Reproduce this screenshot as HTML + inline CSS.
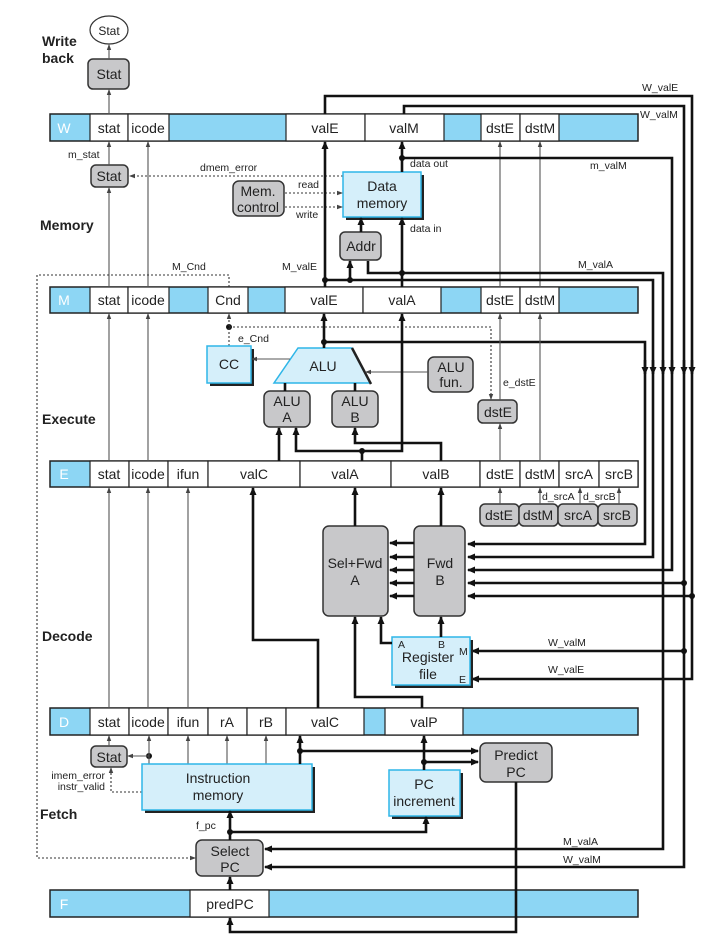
<!DOCTYPE html>
<html><head><meta charset="utf-8"><style>
html,body{margin:0;padding:0;background:#fff}
svg{display:block}
text{font-family:"Liberation Sans",sans-serif;fill:#222}
.c{font-size:14px;text-anchor:middle}
.s{font-size:10.5px}
.b{font-size:14px;font-weight:bold}
.th{stroke:#111;stroke-width:2.6;fill:none}
.tn{stroke:#555;stroke-width:1.1;fill:none}
.dt{stroke:#333;stroke-width:1.1;fill:none;stroke-dasharray:2 2}
.blue{fill:#8dd6f4;stroke:#222;stroke-width:1.5}
.cell{fill:#fff;stroke:#222;stroke-width:1.2}
.grey{fill:#c8c8ca;stroke:#333;stroke-width:1.5}
.lb{fill:#d5effa;stroke:#2fb6e8;stroke-width:1.5}
</style></head><body>
<svg width="720" height="944" viewBox="0 0 720 944" xmlns="http://www.w3.org/2000/svg">
<defs>
<marker id="a" markerWidth="8" markerHeight="8" refX="7" refY="4" orient="auto" markerUnits="userSpaceOnUse"><path d="M0,0.5 L8,4 L0,7.5z" fill="#111"/></marker>
<marker id="t" markerWidth="6" markerHeight="6" refX="5" refY="3" orient="auto" markerUnits="userSpaceOnUse"><path d="M0,0.8 L6,3 L0,5.2z" fill="#444"/></marker>
</defs>

<!-- Stage labels -->
<text class="b" x="42" y="46">Write</text>
<text class="b" x="42" y="63">back</text>
<text class="b" x="40" y="230">Memory</text>
<text class="b" x="42" y="424">Execute</text>
<text class="b" x="42" y="641">Decode</text>
<text class="b" x="40" y="819">Fetch</text>

<!-- W row -->
<rect class="blue" x="50" y="114" width="588" height="27"/>
<rect class="cell" x="90" y="114" width="38" height="27"/><text class="c" x="109" y="133">stat</text>
<rect class="cell" x="128" y="114" width="41" height="27"/><text class="c" x="148" y="133">icode</text>
<rect class="cell" x="286" y="114" width="79" height="27"/><text class="c" x="325" y="133">valE</text>
<rect class="cell" x="365" y="114" width="79" height="27"/><text class="c" x="404" y="133">valM</text>
<rect class="cell" x="481" y="114" width="39" height="27"/><text class="c" x="500" y="133">dstE</text>
<rect class="cell" x="520" y="114" width="39" height="27"/><text class="c" x="540" y="133">dstM</text>
<text class="c" x="64" y="133" style="fill:#fff">W</text>

<!-- M row -->
<rect class="blue" x="50" y="287" width="588" height="26"/>
<rect class="cell" x="90" y="287" width="38" height="26"/><text class="c" x="109" y="305">stat</text>
<rect class="cell" x="128" y="287" width="41" height="26"/><text class="c" x="148" y="305">icode</text>
<rect class="cell" x="208" y="287" width="40" height="26"/><text class="c" x="228" y="305">Cnd</text>
<rect class="cell" x="285" y="287" width="78" height="26"/><text class="c" x="324" y="305">valE</text>
<rect class="cell" x="363" y="287" width="78" height="26"/><text class="c" x="402" y="305">valA</text>
<rect class="cell" x="481" y="287" width="39" height="26"/><text class="c" x="500" y="305">dstE</text>
<rect class="cell" x="520" y="287" width="39" height="26"/><text class="c" x="540" y="305">dstM</text>
<text class="c" x="64" y="305" style="fill:#fff">M</text>

<!-- E row -->
<rect class="blue" x="50" y="461" width="588" height="26"/>
<rect class="cell" x="90" y="461" width="39" height="26"/><text class="c" x="109" y="479">stat</text>
<rect class="cell" x="129" y="461" width="39" height="26"/><text class="c" x="148" y="479">icode</text>
<rect class="cell" x="168" y="461" width="40" height="26"/><text class="c" x="188" y="479">ifun</text>
<rect class="cell" x="208" y="461" width="92" height="26"/><text class="c" x="254" y="479">valC</text>
<rect class="cell" x="300" y="461" width="91" height="26"/><text class="c" x="345" y="479">valA</text>
<rect class="cell" x="391" y="461" width="89" height="26"/><text class="c" x="436" y="479">valB</text>
<rect class="cell" x="480" y="461" width="40" height="26"/><text class="c" x="500" y="479">dstE</text>
<rect class="cell" x="520" y="461" width="39" height="26"/><text class="c" x="540" y="479">dstM</text>
<rect class="cell" x="559" y="461" width="40" height="26"/><text class="c" x="579" y="479">srcA</text>
<rect class="cell" x="599" y="461" width="39" height="26"/><text class="c" x="619" y="479">srcB</text>
<text class="c" x="64" y="479" style="fill:#fff">E</text>

<!-- D row -->
<rect class="blue" x="50" y="708" width="588" height="27"/>
<rect class="cell" x="90" y="708" width="39" height="27"/><text class="c" x="109" y="727">stat</text>
<rect class="cell" x="129" y="708" width="39" height="27"/><text class="c" x="148" y="727">icode</text>
<rect class="cell" x="168" y="708" width="40" height="27"/><text class="c" x="188" y="727">ifun</text>
<rect class="cell" x="208" y="708" width="39" height="27"/><text class="c" x="227" y="727">rA</text>
<rect class="cell" x="247" y="708" width="39" height="27"/><text class="c" x="266" y="727">rB</text>
<rect class="cell" x="286" y="708" width="78" height="27"/><text class="c" x="325" y="727">valC</text>
<rect class="cell" x="385" y="708" width="78" height="27"/><text class="c" x="424" y="727">valP</text>
<text class="c" x="64" y="727" style="fill:#fff">D</text>

<!-- F row -->
<rect class="blue" x="50" y="890" width="588" height="27"/>
<rect class="cell" x="190" y="890" width="79" height="27"/><text class="c" x="230" y="909">predPC</text>
<text class="c" x="64" y="909" style="fill:#fff">F</text>

<!-- Write back stat -->
<ellipse cx="109" cy="30" rx="19" ry="14" fill="#fff" stroke="#333" stroke-width="1.2"/>
<text class="c" x="109" y="35" style="font-size:12px">Stat</text>
<rect class="grey" x="88" y="59" width="41" height="30" rx="5"/><text class="c" x="109" y="79">Stat</text>
<path class="tn" d="M109 114 V90" marker-end="url(#t)"/>
<path class="tn" d="M109 59 V45" marker-end="url(#t)"/>

<!-- Memory stage -->
<rect class="grey" x="91" y="165" width="37" height="22" rx="5"/><text class="c" x="109" y="181">Stat</text>
<text class="s" x="68" y="158">m_stat</text>
<path class="tn" d="M109 165 V142" marker-end="url(#t)"/>
<path class="tn" d="M109 287 V188" marker-end="url(#t)"/>
<path class="tn" d="M148 287 V142" marker-end="url(#t)"/>
<path class="dt" d="M343 176 H130" marker-end="url(#t)"/>
<text class="s" x="200" y="171">dmem_error</text>
<rect x="346" y="175" width="78" height="45" fill="#222"/>
<rect class="lb" x="343" y="172" width="78" height="45"/>
<text class="c" x="382" y="191">Data</text><text class="c" x="382" y="208">memory</text>
<rect class="grey" x="233" y="181" width="51" height="35" rx="6"/>
<text class="c" x="258" y="196">Mem.</text><text class="c" x="258" y="212">control</text>
<path class="dt" d="M285 193 H342" marker-end="url(#t)"/>
<path class="dt" d="M285 207 H342" marker-end="url(#t)"/>
<text class="s" x="298" y="188">read</text>
<text class="s" x="296" y="218">write</text>
<rect class="grey" x="340" y="232" width="41" height="28" rx="5"/><text class="c" x="361" y="251">Addr</text>
<path class="th" d="M361 232 V218" marker-end="url(#a)"/>
<path class="th" d="M402 287 V218" marker-end="url(#a)"/>
<text class="s" x="410" y="232">data in</text>
<path class="th" d="M402 172 V142" marker-end="url(#a)"/>
<text class="s" x="410" y="167">data out</text>
<path class="th" d="M325 287 V142" marker-end="url(#a)"/>
<path class="tn" d="M500 287 V142" marker-end="url(#t)"/>
<path class="tn" d="M540 287 V142" marker-end="url(#t)"/>
<!-- M_valE line -->
<path class="th" d="M325 280 H653 V557 H468" marker-end="url(#a)"/>
<path class="th" d="M350 280 V261" marker-end="url(#a)"/>
<!-- M_valA -->
<path class="th" d="M368 261 V273 H663 V849 H265" marker-end="url(#a)"/>
<!-- m_valM -->
<path class="th" d="M402 158 H672 V570 H468" marker-end="url(#a)"/>
<!-- W_valE -->
<path class="th" d="M325 114 V96 H692 V679 H472" marker-end="url(#a)"/>
<path class="th" d="M692 596 H468" marker-end="url(#a)"/>
<!-- W_valM -->
<path class="th" d="M404 114 V106 H684 V867 H265" marker-end="url(#a)"/>
<path class="th" d="M684 583 H468" marker-end="url(#a)"/>
<path class="th" d="M684 651 H472" marker-end="url(#a)"/>
<!-- down arrowheads on verticals -->
<g>
<path class="th" d="M645 360 V374" marker-end="url(#a)"/>
<path class="th" d="M653 360 V374" marker-end="url(#a)"/>
<path class="th" d="M663 360 V374" marker-end="url(#a)"/>
<path class="th" d="M672 360 V374" marker-end="url(#a)"/>
<path class="th" d="M684 360 V374" marker-end="url(#a)"/>
<path class="th" d="M692 360 V374" marker-end="url(#a)"/>
</g>
<g fill="#111">
<circle cx="325" cy="280" r="3"/><circle cx="350" cy="280" r="3"/><circle cx="402" cy="273" r="3"/>
<circle cx="402" cy="158" r="3"/><circle cx="684" cy="583" r="3"/><circle cx="692" cy="596" r="3"/>
<circle cx="684" cy="651" r="3"/><circle cx="324" cy="342" r="3"/><circle cx="229" cy="327" r="3"/>
<circle cx="362" cy="451" r="3"/><circle cx="149" cy="756" r="3"/><circle cx="300" cy="751" r="3"/>
<circle cx="424" cy="762" r="3"/><circle cx="230" cy="832" r="3"/>
</g>
<text class="s" x="642" y="91">W_valE</text>
<text class="s" x="640" y="118">W_valM</text>
<text class="s" x="590" y="169">m_valM</text>
<text class="s" x="578" y="268">M_valA</text>
<text class="s" x="282" y="270">M_valE</text>
<text class="s" x="172" y="270">M_Cnd</text>

<!-- M_Cnd dotted -->
<path class="dt" d="M229 287 V275 H37 V858 H195" marker-end="url(#t)"/>

<!-- Execute -->
<path class="dt" d="M229 346 V314" marker-end="url(#t)"/>
<path class="dt" d="M229 327 H491 V399" marker-end="url(#t)"/>
<text class="s" x="238" y="342">e_Cnd</text>
<text class="s" x="503" y="386">e_dstE</text>
<rect x="210" y="349" width="44" height="37" fill="#222"/>
<rect class="lb" x="207" y="346" width="44" height="37"/><text class="c" x="229" y="369">CC</text>
<polygon points="298,348 352,348 370,383 274,383" fill="#d5effa" stroke="#2fb6e8" stroke-width="1.5"/>
<path d="M352 348 L371 384" stroke="#222" stroke-width="2.5"/>
<text class="c" x="323" y="371">ALU</text>
<path class="tn" d="M290 359 H252" marker-end="url(#t)"/>
<rect class="grey" x="428" y="357" width="45" height="35" rx="6"/>
<text class="c" x="451" y="372">ALU</text><text class="c" x="451" y="387">fun.</text>
<path class="tn" d="M428 372 H366" marker-end="url(#t)"/>
<rect class="grey" x="264" y="391" width="46" height="36" rx="6"/>
<text class="c" x="287" y="406">ALU</text><text class="c" x="287" y="422">A</text>
<rect class="grey" x="332" y="391" width="46" height="36" rx="6"/>
<text class="c" x="355" y="406">ALU</text><text class="c" x="355" y="422">B</text>
<path class="th" d="M285 391 V383"/><path class="th" d="M355 391 V383"/>
<path class="th" d="M324 348 V314" marker-end="url(#a)"/>
<path class="th" d="M324 342 H645 V544 H468" marker-end="url(#a)"/>
<rect class="grey" x="478" y="400" width="39" height="23" rx="5"/><text class="c" x="498" y="417">dstE</text>
<path class="tn" d="M500 400 V314" marker-end="url(#t)"/>
<path class="tn" d="M500 461 V424" marker-end="url(#t)"/>
<path class="tn" d="M540 461 V314" marker-end="url(#t)"/>
<path class="tn" d="M109 461 V314" marker-end="url(#t)"/>
<path class="tn" d="M148 461 V314" marker-end="url(#t)"/>
<path class="th" d="M279 461 V428" marker-end="url(#a)"/>
<path class="th" d="M362 461 V451 H296 V428" marker-end="url(#a)"/>
<path class="th" d="M362 451 H402 V314" marker-end="url(#a)"/>
<path class="th" d="M441 461 V443 H355 V428" marker-end="url(#a)"/>

<!-- lower dst boxes -->
<rect class="grey" x="480" y="504" width="39" height="22" rx="5"/><text class="c" x="499" y="520">dstE</text>
<rect class="grey" x="519" y="504" width="39" height="22" rx="5"/><text class="c" x="538" y="520">dstM</text>
<rect class="grey" x="558" y="504" width="40" height="22" rx="5"/><text class="c" x="578" y="520">srcA</text>
<rect class="grey" x="598" y="504" width="39" height="22" rx="5"/><text class="c" x="617" y="520">srcB</text>
<path class="tn" d="M500 504 V488" marker-end="url(#t)"/>
<path class="tn" d="M540 504 V488" marker-end="url(#t)"/>
<path class="tn" d="M580 504 V488" marker-end="url(#t)"/>
<path class="tn" d="M619 504 V488" marker-end="url(#t)"/>
<text class="s" x="542" y="500">d_srcA</text>
<text class="s" x="583" y="500">d_srcB</text>

<!-- Decode -->
<rect class="grey" x="323" y="526" width="65" height="90" rx="6"/>
<text class="c" x="355" y="568">Sel+Fwd</text><text class="c" x="355" y="585">A</text>
<rect class="grey" x="414" y="526" width="51" height="90" rx="6"/>
<text class="c" x="440" y="568">Fwd</text><text class="c" x="440" y="585">B</text>
<g>
<path class="th" d="M414 543 H390" marker-end="url(#a)"/>
<path class="th" d="M414 557 H390" marker-end="url(#a)"/>
<path class="th" d="M414 570 H390" marker-end="url(#a)"/>
<path class="th" d="M414 583 H390" marker-end="url(#a)"/>
<path class="th" d="M414 596 H390" marker-end="url(#a)"/>
</g>
<path class="th" d="M355 526 V488" marker-end="url(#a)"/>
<path class="th" d="M441 526 V488" marker-end="url(#a)"/>
<rect x="395" y="640" width="78" height="48" fill="#222"/>
<rect class="lb" x="392" y="637" width="78" height="48"/>
<text class="c" x="428" y="662">Register</text><text class="c" x="428" y="679">file</text>
<text class="s" x="398" y="648">A</text><text class="s" x="438" y="648">B</text>
<text class="s" x="459" y="655">M</text><text class="s" x="459" y="683">E</text>
<text class="s" x="548" y="646">W_valM</text>
<text class="s" x="548" y="673">W_valE</text>
<path class="th" d="M392 643 H381 V617" marker-end="url(#a)"/>
<path class="th" d="M441 637 V617" marker-end="url(#a)"/>
<path class="th" d="M422 708 V697 H355 V617" marker-end="url(#a)"/>
<path class="th" d="M318 708 V640 H253 V488" marker-end="url(#a)"/>
<path class="tn" d="M109 708 V488" marker-end="url(#t)"/>
<path class="tn" d="M148 708 V488" marker-end="url(#t)"/>
<path class="tn" d="M188 708 V488" marker-end="url(#t)"/>

<!-- Fetch -->
<rect class="grey" x="91" y="746" width="36" height="21" rx="5"/><text class="c" x="109" y="762">Stat</text>
<path class="tn" d="M109 746 V736" marker-end="url(#t)"/>
<path class="tn" d="M149 756 H128" marker-end="url(#t)"/>
<path class="tn" d="M149 764 V736" marker-end="url(#t)"/>
<path class="tn" d="M188 764 V736" marker-end="url(#t)"/>
<path class="tn" d="M227 764 V736" marker-end="url(#t)"/>
<path class="tn" d="M266 764 V736" marker-end="url(#t)"/>
<path class="dt" d="M142 792 H111 V768" marker-end="url(#t)"/>
<text class="s" x="105" y="779" text-anchor="end">imem_error</text>
<text class="s" x="105" y="790" text-anchor="end">instr_valid</text>
<rect x="145" y="767" width="170" height="46" fill="#222"/>
<rect class="lb" x="142" y="764" width="170" height="46"/>
<text class="c" x="218" y="783">Instruction</text><text class="c" x="218" y="800">memory</text>
<rect x="392" y="773" width="71" height="46" fill="#222"/>
<rect class="lb" x="389" y="770" width="71" height="46"/>
<text class="c" x="424" y="789">PC</text><text class="c" x="424" y="806">increment</text>
<rect class="grey" x="480" y="743" width="72" height="39" rx="6"/>
<text class="c" x="516" y="760">Predict</text><text class="c" x="516" y="777">PC</text>
<path class="th" d="M300 764 V736" marker-end="url(#a)"/>
<path class="th" d="M300 751 H478" marker-end="url(#a)"/>
<path class="th" d="M424 770 V736" marker-end="url(#a)"/>
<path class="th" d="M424 762 H478" marker-end="url(#a)"/>
<rect class="grey" x="196" y="840" width="67" height="36" rx="6"/>
<text class="c" x="230" y="856">Select</text><text class="c" x="230" y="872">PC</text>
<path class="th" d="M230 840 V811" marker-end="url(#a)"/>
<path class="th" d="M230 832 H426 V817" marker-end="url(#a)"/>
<text class="s" x="196" y="829">f_pc</text>
<path class="th" d="M230 890 V877" marker-end="url(#a)"/>
<path class="th" d="M516 782 V932 H230 V918" marker-end="url(#a)"/>
<text class="s" x="563" y="845">M_valA</text>
<text class="s" x="563" y="863">W_valM</text>
</svg>
</body></html>
